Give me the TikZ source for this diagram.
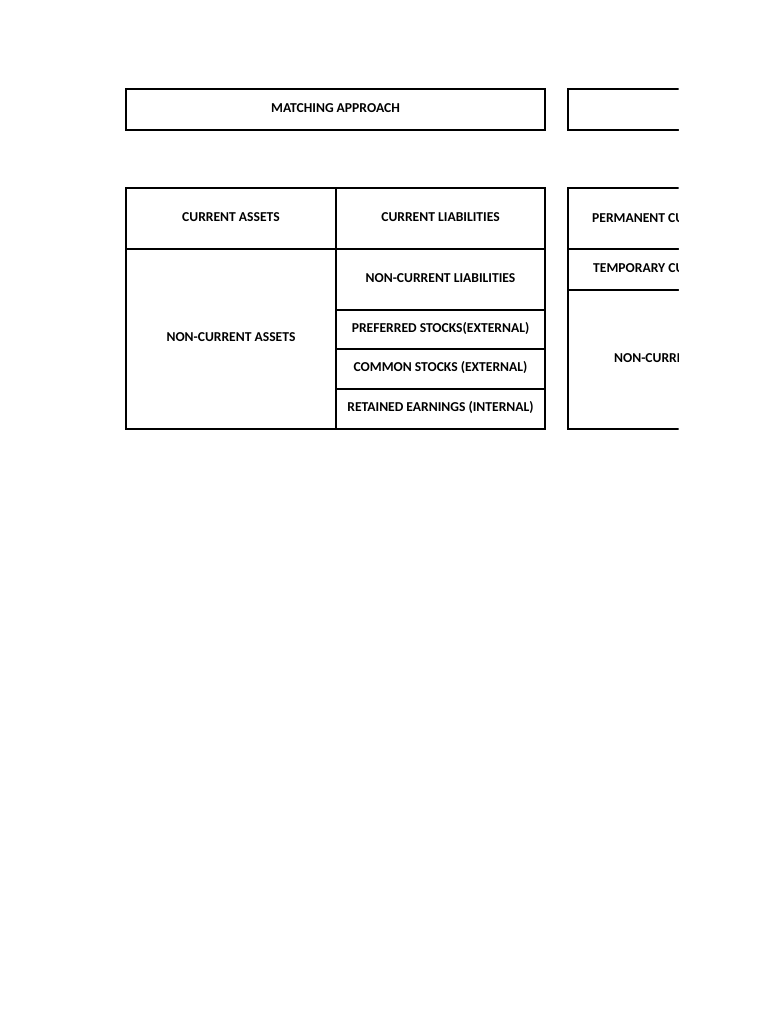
\documentclass[tikz,border=0pt]{standalone}
\usepackage{fontspec}
\setmainfont{Carlito}
\begin{document}
\begin{tikzpicture}[x=1pt,y=-1pt,
  cell/.style={draw=black, line width=1.8pt, rectangle, inner sep=0pt, outer sep=0pt, anchor=north west},
  lbl/.style={font=\bfseries\fontsize{13.6}{15}\selectfont, inner sep=0pt, text height=8.8pt, text depth=0pt},
  thick edge/.style={line width=2.8pt, line cap=rect}]
\useasboundingbox[fill=white] (0,0) rectangle (768,1024);
% ---- left section ----
\node[cell, minimum width=419pt, minimum height=41pt] (title) at (126,89) {};
\node[lbl] (titletxt) at (335.5,108) {MATCHING APPROACH};
\node[cell, minimum width=210pt, minimum height=61pt] (ca) at (126,188) {};
\node[cell, minimum width=209pt, minimum height=61pt] (cl) at (336,188) {};
\node[cell, minimum width=210pt, minimum height=180pt] (nca) at (126,249) {};
\node[cell, minimum width=209pt, minimum height=61pt] (ncl) at (336,249) {};
\node[cell, minimum width=209pt, minimum height=39pt] (ps) at (336,310) {};
\node[cell, minimum width=209pt, minimum height=40pt] (cs) at (336,349) {};
\node[cell, minimum width=209pt, minimum height=40pt] (re) at (336,389) {};
\node[lbl] (catxt) at (ca.center) [yshift=1.5pt] {CURRENT ASSETS};
\node[lbl] (cltxt) at (cl.center) [yshift=1.5pt] {CURRENT LIABILITIES};
\node[lbl] (ncatxt) at (nca.center) [yshift=1.5pt] {NON-CURRENT ASSETS};
\node[lbl] (ncltxt) at (ncl.center) [yshift=1.5pt] {NON-CURRENT LIABILITIES};
\node[lbl] (pstxt) at (ps.center) [yshift=1.5pt] {PREFERRED STOCKS(EXTERNAL)};
\node[lbl] (cstxt) at (cs.center) [yshift=1.5pt] {COMMON STOCKS (EXTERNAL)};
\node[lbl] (retxt) at (re.center) [yshift=1.5pt] {RETAINED EARNINGS (INTERNAL)};
\draw[thick edge] (title.north west) -- (title.south west) -- (title.south east);
\draw[thick edge] (ca.north west) -- (nca.south west);
\draw[thick edge] (re.north west) -- (re.north east);
% ---- right section (cut off at the page edge) ----
\begin{scope}
\clip (0,0) rectangle (678.5,1024);
\node[cell, minimum width=419pt, minimum height=41pt] (title2) at (568,89) {};
\node[cell, minimum width=210pt, minimum height=61pt] (pca) at (568,188) {};
\node[cell, minimum width=210pt, minimum height=41pt] (tca) at (568,249) {};
\node[cell, minimum width=210pt, minimum height=139pt] (nca2) at (568,290) {};
\draw[thick edge] (title2.north west) -- (title2.south west) -- (title2.south east);
\node[lbl, anchor=west] (pcatxt) at (592,218) {PERMANENT CU};
\node[lbl, anchor=west] (tcatxt) at (593,268) {TEMPORARY CU};
\node[lbl, anchor=west] (nca2txt) at (614,358) {NON-CURRE};
\end{scope}
\end{tikzpicture}
\end{document}
